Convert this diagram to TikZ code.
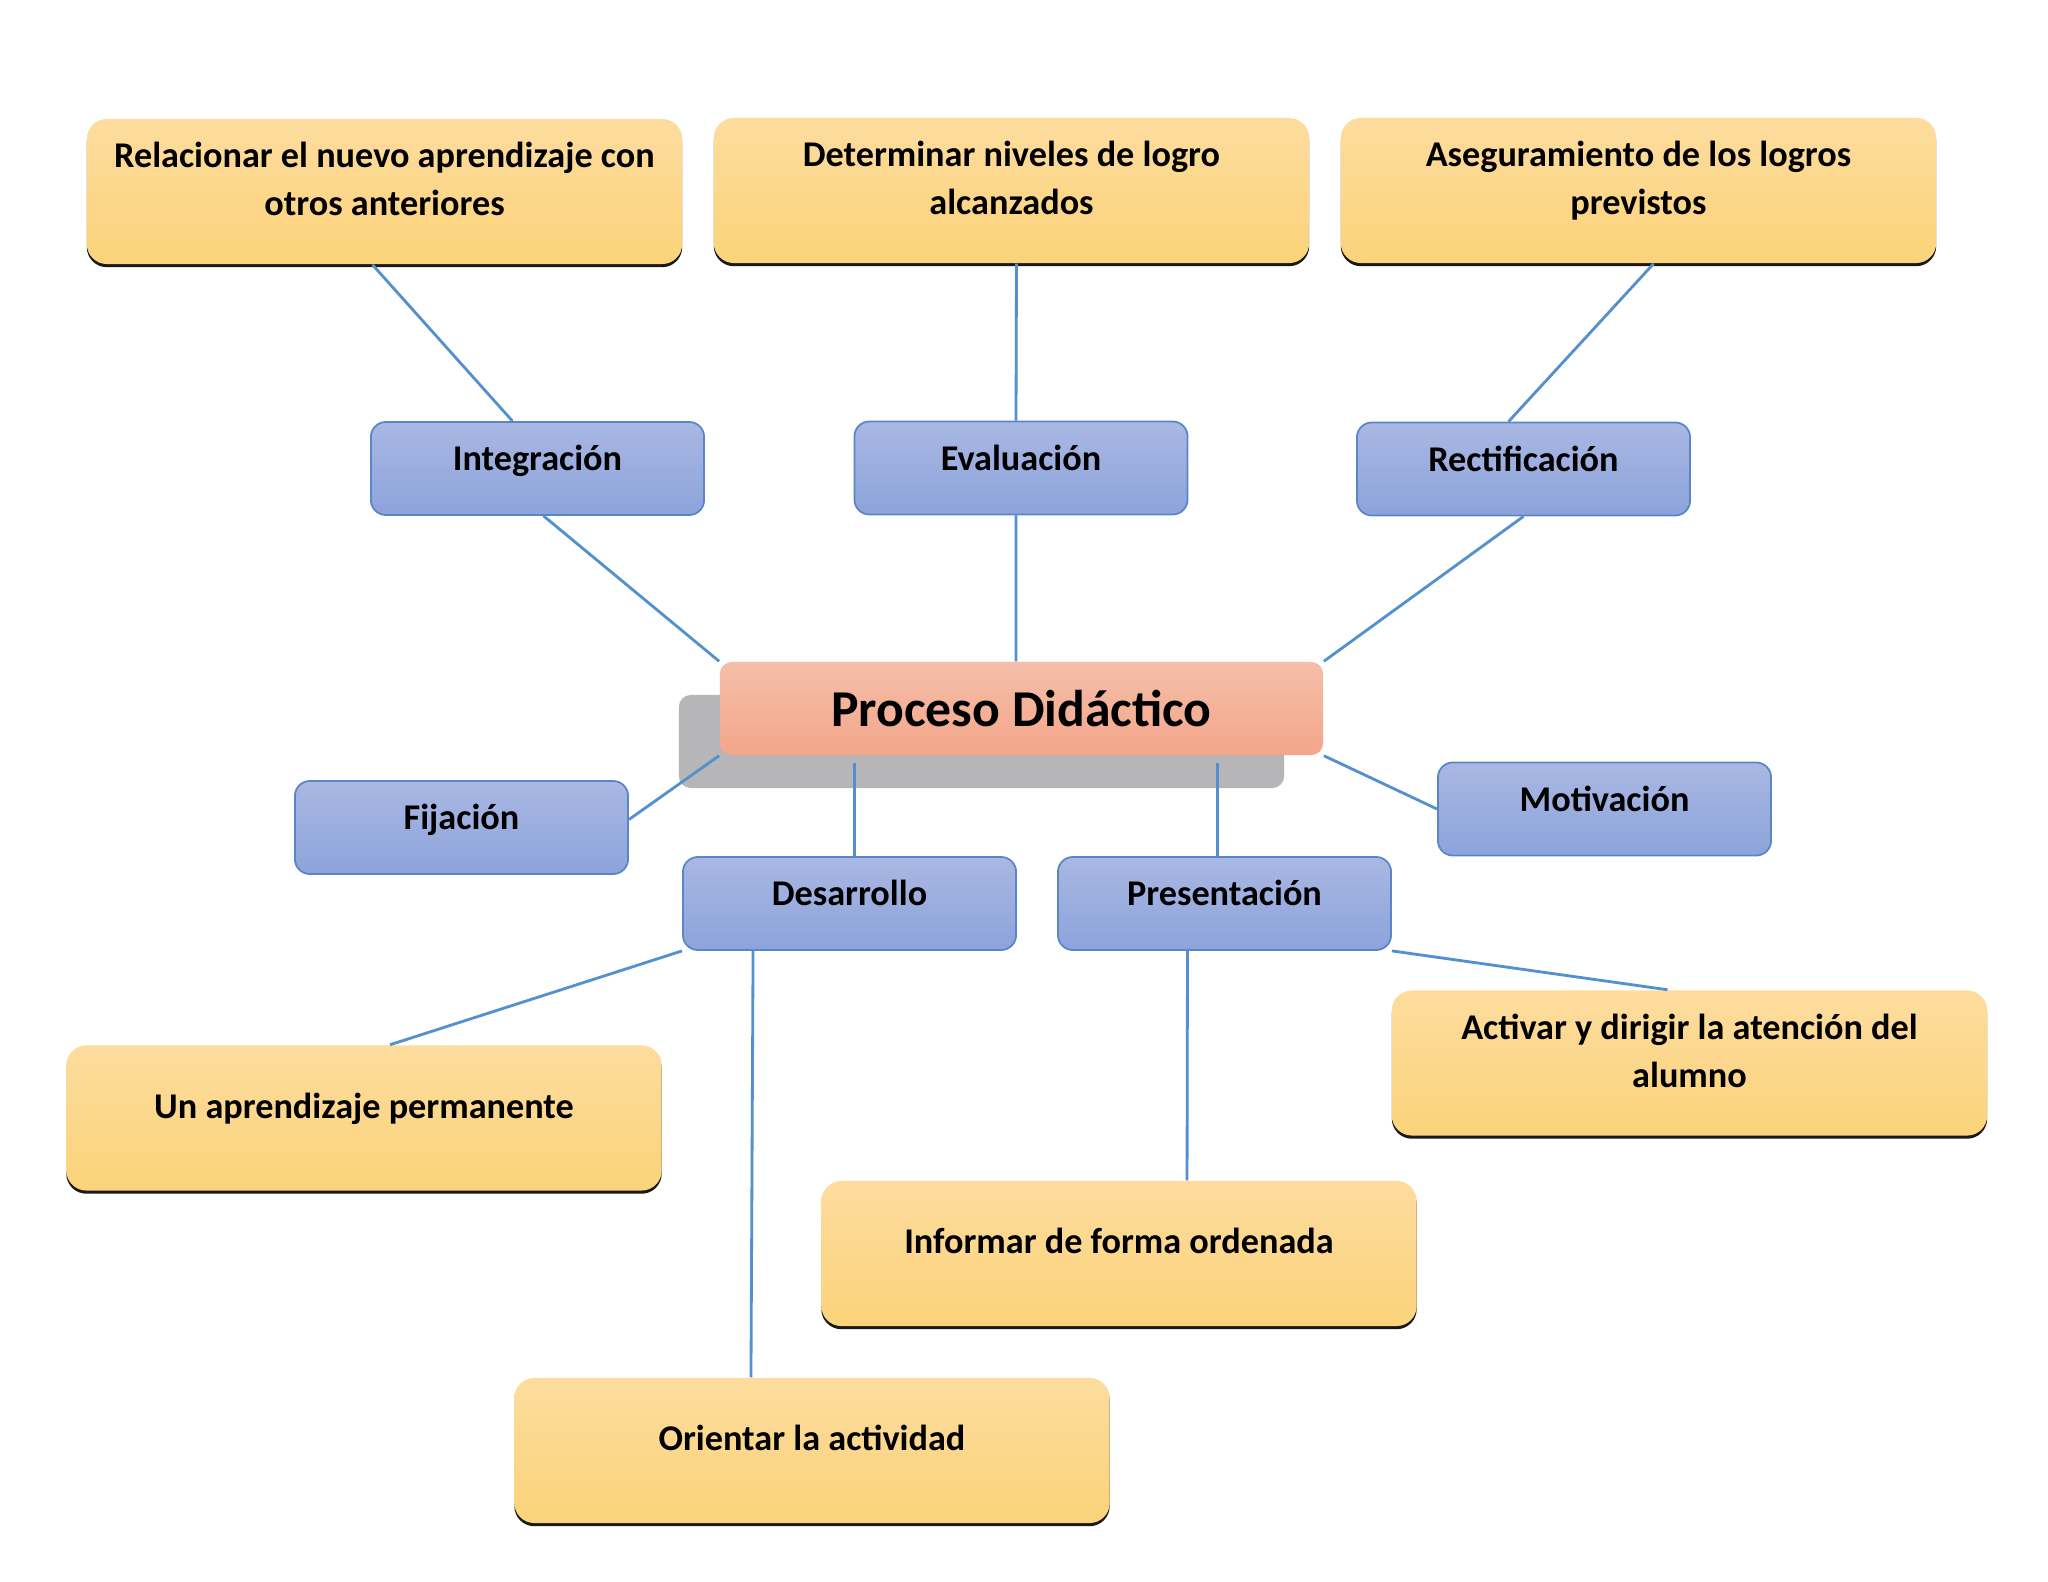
\documentclass[tikz,border=0pt]{standalone}
\usepackage{fontspec}
\setmainfont{Carlito}
\usepackage{tikz}
\usetikzlibrary{shadows,positioning}
\definecolor{amaT}{HTML}{FDDC9E}
\definecolor{amaB}{HTML}{FBD37A}
\definecolor{azulT}{HTML}{A9B8E3}
\definecolor{azulB}{HTML}{8DA3DB}
\definecolor{azulL}{HTML}{5A86C6}
\definecolor{salT}{HTML}{F5BEA9}
\definecolor{salB}{HTML}{F3A68A}
\definecolor{gris}{HTML}{B6B6B8}
\definecolor{linea}{HTML}{5490CE}

\begin{document}
\begin{tikzpicture}[x=0.01cm,y=-0.01cm,
  meta/.style={rounded corners=0.2cm,top color=amaT,bottom color=amaB,minimum width=5.95cm,minimum height=1.45cm,
    align=center,font=\fontsize{10.3}{13.6}\selectfont\bfseries,text depth=0.25cm,
    drop shadow={shadow xshift=0pt,shadow yshift=-0.9pt,fill=black!90,opacity=1}},
  fase/.style={rounded corners=0.15cm,draw=azulL,line width=0.5pt,top color=azulT,bottom color=azulB,
    minimum width=3.33cm,minimum height=0.93cm,font=\fontsize{10.3}{12}\selectfont\bfseries,text depth=0.21cm},
  enlace/.style={draw=linea,line width=0.8pt}]
  \fill[white] (0,0) rectangle (2048,1582);
  \useasboundingbox (0,0) rectangle (2048,1582);

  % centro
  \node[fill=gris,rounded corners=0.12cm,minimum width=6.05cm,minimum height=0.93cm] (pdsombra) at (981.5,741.5) {};
  \node[rounded corners=0.12cm,top color=salT,bottom color=salB,minimum width=6.03cm,minimum height=0.93cm,
    font=\fontsize{14.7}{17}\selectfont\bfseries] (pd) at (1021.5,708.5) {Proceso Didáctico};

  % fases
  \node[fase] (int) at (537.5,468.5) {Integración};
  \node[fase] (eva) at (1021,468) {Evaluación};
  \node[fase] (rec) at (1523.5,469) {Rectificación};
  \node[fase] (fij) at (461.5,827.5) {Fijación};
  \node[fase] (des) at (849.5,903.5) {Desarrollo};
  \node[fase] (pre) at (1224.5,903.5) {Presentación};
  \node[fase] (mot) at (1604.5,809) {Motivación};

  % metas
  \node[meta] (rel) at (384.5,191.5) {Relacionar el nuevo aprendizaje con\\otros anteriores};
  \node[meta] (det) at (1011.5,190.5) {Determinar niveles de logro\\alcanzados};
  \node[meta] (ase) at (1638.5,190.5) {Aseguramiento de los logros\\previstos};
  \node[meta] (apr) at (364,1118) {Un aprendizaje permanente};
  \node[meta] (act) at (1689.5,1063) {Activar y dirigir la atención del\\alumno};
  \node[meta] (inf) at (1119,1253.5) {Informar de forma ordenada};
  \node[meta] (ori) at (812,1450.5) {Orientar la actividad};

  \coordinate (dsup) at (854.5,763);
  \coordinate (psup) at (1217.5,763);

  \draw[enlace] ([xshift=-0.12cm]rel.south) -- ([xshift=-0.25cm]int.north);
  \draw[enlace] ([xshift=0.06cm]int.south) -- (pd.north west);
  \draw[enlace] ([xshift=0.05cm]det.south) -- ([xshift=-0.05cm]eva.north);
  \draw[enlace] ([xshift=-0.05cm]eva.south) -- ([xshift=-0.055cm]pd.north);
  \draw[enlace] ([xshift=0.15cm]ase.south) -- ([xshift=-0.15cm]rec.north);
  \draw[enlace] (rec.south) -- (pd.north east);
  \draw[enlace] (pd.south west) -- ([yshift=0.08cm]fij.east);
  \draw[enlace] (pd.south east) -- (mot.west);
  \draw[enlace] ([xshift=0.05cm]des.north) -- (dsup);
  \draw[enlace] ([xshift=-0.07cm]pre.north) -- (psup);
  \draw[enlace] (des.south west) -- ([xshift=0.26cm]apr.north);
  \draw[enlace] ([xshift=0.71cm]des.south west) -- ([xshift=-0.61cm]ori.north);
  \draw[enlace] ([xshift=-0.37cm]pre.south) -- ([xshift=0.68cm]inf.north);
  \draw[enlace] (pre.south east) -- ([xshift=-0.22cm]act.north);
\end{tikzpicture}
\end{document}
